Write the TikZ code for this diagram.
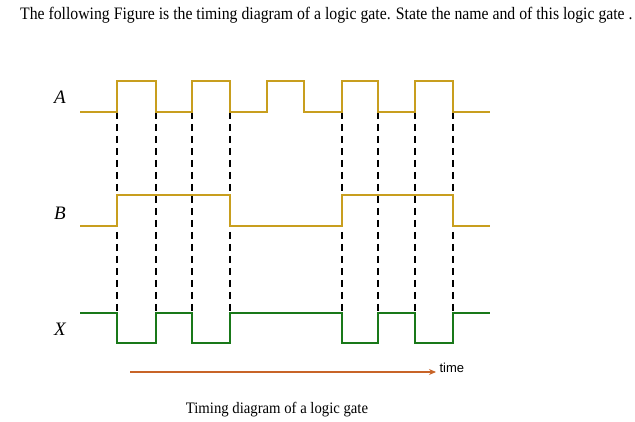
\documentclass[tikz,border=0pt]{standalone}
\usepackage{fontspec}
\setmainfont{Liberation Serif}
\newfontfamily\sansf{Liberation Sans}
\usetikzlibrary{arrows.meta}
\definecolor{gold}{RGB}{200,158,30}
\definecolor{dgreen}{RGB}{25,120,25}
\definecolor{arr}{RGB}{200,100,40}
\begin{document}
\begin{tikzpicture}[x=1pt,y=-1pt,
  wave/.style={line width=2.2pt,line join=miter},
  guide/.style={black,line width=1.1pt,dash pattern=on 7pt off 5pt},
  lbl/.style={font=\fontsize{19}{19}\selectfont\itshape}]
\useasboundingbox (0,0) rectangle (635,422);
\fill[white] (0,0) rectangle (635,422);
\node[anchor=west,inner sep=0,font=\fontsize{17.5}{17.5}\selectfont,xscale=0.9] (title) at (20,15) {The following Figure is the timing diagram of a logic gate. State the name and of this logic gate .};
\foreach \x in {117,156,192,230,342,378,415,453}
  \draw[guide] (\x,112) -- (\x,313);
\draw[wave,gold] (80,112) -- (117,112) -- (117,81) -- (156,81) -- (156,112) -- (192,112) -- (192,81) -- (230,81) -- (230,112) -- (267,112) -- (267,81) -- (304,81) -- (304,112) -- (342,112) -- (342,81) -- (378,81) -- (378,112) -- (415,112) -- (415,81) -- (453,81) -- (453,112) -- (490,112);
\draw[wave,gold] (80,226) -- (117,226) -- (117,195) -- (230,195) -- (230,226) -- (342,226) -- (342,195) -- (453,195) -- (453,226) -- (490,226);
\draw[wave,dgreen] (80,313) -- (117,313) -- (117,343) -- (156,343) -- (156,313) -- (192,313) -- (192,343) -- (230,343) -- (230,313) -- (342,313) -- (342,343) -- (378,343) -- (378,313) -- (415,313) -- (415,343) -- (453,343) -- (453,313) -- (490,313);
\node[lbl] (la) at (60,97) {A};
\node[lbl] (lb) at (60,213) {B};
\node[lbl] (lx) at (60,329) {X};
\coordinate (t0) at (130,372);
\node[anchor=west,font=\sansf\fontsize{13}{13}\selectfont] (time) at (436,368) {time};
\draw[arr,line width=1.2pt,-{Stealth[length=7pt,width=6pt]}] (t0) -- (time.west |- t0);
\node[font=\fontsize{16}{16}\selectfont,xscale=0.92] (cap) at (277,410) {Timing diagram of a logic gate};
\end{tikzpicture}
\end{document}
